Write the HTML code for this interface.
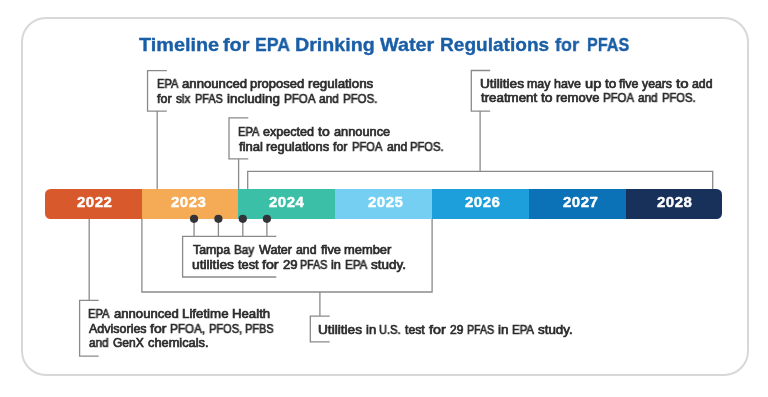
<!DOCTYPE html>
<html><head><meta charset="utf-8">
<style>
html,body{margin:0;padding:0;background:#fff;}
body{width:768px;height:397px;position:relative;overflow:hidden;font-family:"Liberation Sans",sans-serif;}
.card{position:absolute;left:21.4px;top:16.6px;width:723.4px;height:355.9px;border:2px solid #d8d8d8;border-radius:25px;}
.title{will-change:transform;position:absolute;font-weight:bold;color:#1a5ea6;white-space:nowrap;line-height:16px;-webkit-text-stroke:0.35px #1a5ea6;}
.t{will-change:transform;position:absolute;font-size:12.0px;line-height:16px;color:#2b2b2b;white-space:nowrap;-webkit-text-stroke:0.65px #2b2b2b;word-spacing:0.8px;transform:scaleX(1.04);transform-origin:0 0;}
.bar{position:absolute;left:45.4px;top:189.2px;width:676.5px;height:29.6px;border-radius:5.5px;overflow:hidden;}
.seg{position:absolute;top:0;height:29.6px;}
.yr{will-change:transform;position:absolute;color:#fff;font-weight:bold;line-height:16px;white-space:nowrap;-webkit-text-stroke:0.45px #fff;}
svg{position:absolute;left:0;top:0;}
</style></head>
<body>
<div class="card"></div>
<div class="title" style="left:139.30px;top:36.91px;font-size:19px;letter-spacing:0.000px;transform:scaleX(1.0443);transform-origin:0 0;">Timeline</div>
<div class="title" style="left:223.10px;top:36.91px;font-size:19px;letter-spacing:0.000px;transform:scaleX(1.0469);transform-origin:0 0;">for</div>
<div class="title" style="left:255.10px;top:36.91px;font-size:19px;letter-spacing:0.000px;transform:scaleX(0.9282);transform-origin:0 0;">EPA</div>
<div class="title" style="left:294.70px;top:36.91px;font-size:19px;letter-spacing:0.000px;transform:scaleX(1.0348);transform-origin:0 0;">Drinking</div>
<div class="title" style="left:379.60px;top:36.91px;font-size:19px;letter-spacing:0.000px;transform:scaleX(1.0425);transform-origin:0 0;">Water</div>
<div class="title" style="left:439.60px;top:36.91px;font-size:19px;letter-spacing:0.000px;transform:scaleX(1.0038);transform-origin:0 0;">Regulations</div>
<div class="title" style="left:555.10px;top:36.91px;font-size:19px;letter-spacing:0.000px;transform:scaleX(0.9473);transform-origin:0 0;">for</div>
<div class="title" style="left:587.00px;top:36.91px;font-size:19px;letter-spacing:0.000px;transform:scaleX(0.8502);transform-origin:0 0;">PFAS</div>

<svg width="768" height="397" viewBox="0 0 768 397" fill="none" stroke="#8a8a8a" stroke-width="1.3">
  <path d="M166.8,70.6 H147.55 V111.2 H166.8 M157.2,111.2 V189"/>
  <path d="M248.3,117.9 H229 V158.8 H248.3 M238.6,158.8 V189"/>
  <path d="M490.2,70.5 H471.3 V111.1 H490.2 M480.1,111.1 V171.4"/>
  <path d="M247.7,189 V171.4 H712.7 V189"/>
  <path d="M194.05,218.8 V236.3 M218.4,218.8 V236.3 M242.8,218.8 V236.3 M266.9,218.8 V236.3"/>
  <path d="M276.3,236.3 H182.6 V277.0 H276.3"/>
  <path d="M89.2,219 V300.4 M98.7,300.4 H79.6 V356.2 H98.7"/>
  <path d="M141.9,219 V292 H432.1 V219 M319.9,292 V316 M329.7,316.1 H310.3 V341.8 H329.7"/>
</svg>

<div class="bar">
  <div class="seg" style="left:0;width:96.6px;background:#d85a2c"></div>
  <div class="seg" style="left:96.6px;width:96.4px;background:#f5ab55"></div>
  <div class="seg" style="left:193px;width:96.5px;background:#3bbfa7"></div>
  <div class="seg" style="left:289.5px;width:97.6px;background:#74cff2"></div>
  <div class="seg" style="left:387.1px;width:96.4px;background:#1d9fdb"></div>
  <div class="seg" style="left:483.5px;width:97.4px;background:#0b72b8"></div>
  <div class="seg" style="left:580.9px;width:95.6px;background:#17315b"></div>
</div>
<div class="yr" style="left:76.80px;top:193.90px;font-size:15px;letter-spacing:0.505px">2022</div>
<div class="yr" style="left:171.30px;top:193.90px;font-size:15px;letter-spacing:0.505px">2023</div>
<div class="yr" style="left:269.00px;top:193.90px;font-size:15px;letter-spacing:0.505px">2024</div>
<div class="yr" style="left:367.50px;top:193.90px;font-size:15px;letter-spacing:0.505px">2025</div>
<div class="yr" style="left:465.30px;top:193.90px;font-size:15px;letter-spacing:0.505px">2026</div>
<div class="yr" style="left:563.20px;top:193.90px;font-size:15px;letter-spacing:0.505px">2027</div>
<div class="yr" style="left:656.70px;top:193.90px;font-size:15px;letter-spacing:0.505px">2028</div>

<svg width="768" height="397" viewBox="0 0 768 397">
  <g fill="#333338">
    <circle cx="194.05" cy="218.8" r="4.1"/>
    <circle cx="218.4" cy="218.8" r="4.1"/>
    <circle cx="242.8" cy="218.8" r="4.1"/>
    <circle cx="266.9" cy="218.8" r="4.1"/>
  </g>
</svg>

<div class="t" style="left:157.01px;top:76.34px;transform:scaleX(0.9292);">EPA</div>
<div class="t" style="left:182.33px;top:76.34px;transform:scaleX(1.0971);">announced</div>
<div class="t" style="left:250.26px;top:76.34px;transform:scaleX(1.0828);">proposed</div>
<div class="t" style="left:307.88px;top:76.34px;transform:scaleX(1.1121);">regulations</div>
<div class="t" style="left:157.40px;top:90.84px;transform:scaleX(1.0400);">for</div>
<div class="t" style="left:175.68px;top:90.84px;transform:scaleX(0.9667);">six</div>
<div class="t" style="left:194.81px;top:90.84px;transform:scaleX(0.9051);">PFAS</div>
<div class="t" style="left:226.95px;top:90.84px;transform:scaleX(1.1185);">including</div>
<div class="t" style="left:284.11px;top:90.84px;transform:scaleX(0.9647);">PFOA</div>
<div class="t" style="left:319.26px;top:90.84px;transform:scaleX(0.9897);">and</div>
<div class="t" style="left:343.21px;top:90.84px;transform:scaleX(0.9545);">PFOS.</div>
<div class="t" style="left:238.31px;top:124.24px;transform:scaleX(0.9292);">EPA</div>
<div class="t" style="left:262.80px;top:124.24px;transform:scaleX(1.0477);">expected</div>
<div class="t" style="left:318.40px;top:124.24px;transform:scaleX(1.1711);">to</div>
<div class="t" style="left:334.09px;top:124.24px;transform:scaleX(1.0645);">announce</div>
<div class="t" style="left:238.76px;top:138.54px;transform:scaleX(1.0891);">final</div>
<div class="t" style="left:266.49px;top:138.54px;transform:scaleX(1.0764);">regulations</div>
<div class="t" style="left:332.57px;top:138.54px;transform:scaleX(1.0297);">for</div>
<div class="t" style="left:352.41px;top:138.54px;transform:scaleX(0.9279);">PFOA</div>
<div class="t" style="left:387.24px;top:138.54px;transform:scaleX(1.0207);">and</div>
<div class="t" style="left:409.81px;top:138.54px;transform:scaleX(0.9311);">PFOS.</div>
<div class="t" style="left:479.82px;top:76.14px;transform:scaleX(1.1395);">Utilities</div>
<div class="t" style="left:526.86px;top:76.14px;transform:scaleX(1.0307);">may</div>
<div class="t" style="left:553.97px;top:76.14px;transform:scaleX(1.0383);">have</div>
<div class="t" style="left:585.11px;top:76.14px;transform:scaleX(1.2240);">up</div>
<div class="t" style="left:605.08px;top:76.14px;transform:scaleX(1.1285);">to</div>
<div class="t" style="left:619.30px;top:76.14px;transform:scaleX(1.0374);">five</div>
<div class="t" style="left:642.21px;top:76.14px;transform:scaleX(1.0222);">years</div>
<div class="t" style="left:675.79px;top:76.14px;transform:scaleX(1.2491);">to</div>
<div class="t" style="left:692.13px;top:76.14px;transform:scaleX(1.0260);">add</div>
<div class="t" style="left:480.68px;top:90.34px;transform:scaleX(1.1072);">treatment</div>
<div class="t" style="left:540.59px;top:90.34px;transform:scaleX(1.1604);">to</div>
<div class="t" style="left:556.18px;top:90.34px;transform:scaleX(1.0836);">remove</div>
<div class="t" style="left:603.31px;top:90.34px;transform:scaleX(0.9483);">PFOA</div>
<div class="t" style="left:638.46px;top:90.34px;transform:scaleX(0.9783);">and</div>
<div class="t" style="left:662.21px;top:90.34px;transform:scaleX(0.9311);">PFOS.</div>
<div class="t" style="left:87.81px;top:306.44px;transform:scaleX(0.9334);">EPA</div>
<div class="t" style="left:114.45px;top:306.44px;transform:scaleX(1.0925);">announced</div>
<div class="t" style="left:181.74px;top:306.44px;transform:scaleX(1.1070);">Lifetime</div>
<div class="t" style="left:232.41px;top:306.44px;transform:scaleX(1.1000);">Health</div>
<div class="t" style="left:88.53px;top:320.84px;transform:scaleX(1.0405);">Advisories</div>
<div class="t" style="left:150.29px;top:320.84px;transform:scaleX(1.1689);">for</div>
<div class="t" style="left:170.41px;top:320.84px;transform:scaleX(0.9748);">PFOA,</div>
<div class="t" style="left:209.11px;top:320.84px;transform:scaleX(0.9218);">PFOS,</div>
<div class="t" style="left:244.92px;top:320.84px;transform:scaleX(0.9150);">PFBS</div>
<div class="t" style="left:89.36px;top:335.34px;transform:scaleX(0.9783);">and</div>
<div class="t" style="left:112.87px;top:335.34px;transform:scaleX(1.0025);">GenX</div>
<div class="t" style="left:148.41px;top:335.34px;transform:scaleX(1.0678);">chemicals.</div>
<div class="t" style="left:192.84px;top:242.34px;transform:scaleX(1.0296);">Tampa</div>
<div class="t" style="left:234.31px;top:242.34px;transform:scaleX(0.9695);">Bay</div>
<div class="t" style="left:258.52px;top:242.34px;transform:scaleX(1.0468);">Water</div>
<div class="t" style="left:296.13px;top:242.34px;transform:scaleX(1.0260);">and</div>
<div class="t" style="left:320.60px;top:242.34px;transform:scaleX(1.0715);">five</div>
<div class="t" style="left:344.48px;top:242.34px;transform:scaleX(1.0759);">member</div>
<div class="t" style="left:192.22px;top:256.74px;transform:scaleX(1.1446);">utilities</div>
<div class="t" style="left:237.56px;top:256.74px;transform:scaleX(1.0688);">test</div>
<div class="t" style="left:262.31px;top:256.74px;transform:scaleX(1.1839);">for</div>
<div class="t" style="left:282.86px;top:256.74px;transform:scaleX(1.0929);">29</div>
<div class="t" style="left:300.01px;top:256.74px;transform:scaleX(0.8887);">PFAS</div>
<div class="t" style="left:330.53px;top:256.74px;transform:scaleX(1.0676);">in</div>
<div class="t" style="left:345.01px;top:256.74px;transform:scaleX(0.9698);">EPA</div>
<div class="t" style="left:371.03px;top:256.74px;transform:scaleX(1.1223);">study.</div>
<div class="t" style="left:318.24px;top:321.64px;transform:scaleX(1.1366);">Utilities</div>
<div class="t" style="left:366.48px;top:321.64px;transform:scaleX(1.0800);">in</div>
<div class="t" style="left:378.64px;top:321.64px;transform:scaleX(0.9251);">U.S.</div>
<div class="t" style="left:404.66px;top:321.64px;transform:scaleX(1.0195);">test</div>
<div class="t" style="left:429.30px;top:321.64px;transform:scaleX(1.1910);">for</div>
<div class="t" style="left:450.01px;top:321.64px;transform:scaleX(1.0038);">29</div>
<div class="t" style="left:467.06px;top:321.64px;transform:scaleX(0.8818);">PFAS</div>
<div class="t" style="left:497.91px;top:321.64px;transform:scaleX(1.1209);">in</div>
<div class="t" style="left:511.71px;top:321.64px;transform:scaleX(0.9542);">EPA</div>
<div class="t" style="left:538.33px;top:321.64px;transform:scaleX(1.1161);">study.</div>
</body></html>
